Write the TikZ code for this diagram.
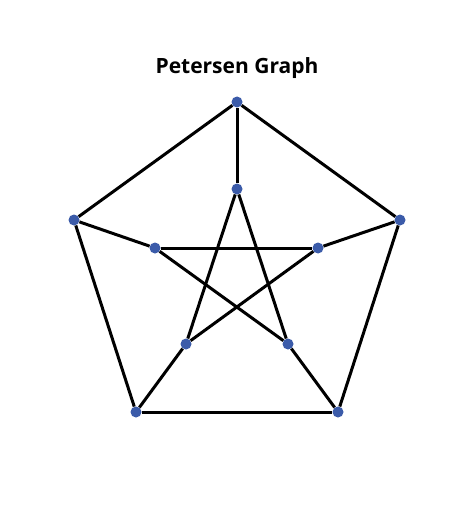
\documentclass[tikz,border=0pt]{standalone}
\usepackage{fontspec}
\setsansfont{Open Sans}
\usetikzlibrary{calc}
\definecolor{dotblue}{HTML}{3B5BA9}

\begin{document}
\begin{tikzpicture}[ x=1pt, y=-1pt,
      edge/.style={ line width=3pt, black},
      vertex/.style={ circle, fill=dotblue, minimum size=11pt, inner sep=0pt},
      title/.style={ font=\sffamily\bfseries\fontsize{21}{25}\selectfont}
      ]
      \useasboundingbox[fill=white] (0,0) rectangle (474,505);

      % title
      \node[title] (Title) at (237,68) {Petersen Graph};

      % outer pentagon
      \node[vertex] (O1) at (237,102) {};
      \node[vertex] (O2) at (400,220) {};
      \node[vertex] (O3) at (338,412) {};
      \node[vertex] (O4) at (136,412) {};
      \node[vertex] (O5) at (74,220)  {};

      % inner star
      \node[vertex] (I1) at (237,189) {};
      \node[vertex] (I2) at (318,248) {};
      \node[vertex] (I3) at (288,344) {};
      \node[vertex] (I4) at (186,344) {};
      \node[vertex] (I5) at (155,248) {};

      % edges
      \foreach \a/\b in {O1/O2, O2/O3, O3/O4, O4/O5, O5/O1,
                         O1/I1, O2/I2, O3/I3, O4/I4, O5/I5,
                         I1/I3, I3/I5, I5/I2, I2/I4, I4/I1}
        \draw[edge] (\a) -- (\b);
    \end{tikzpicture}
\end{document}
